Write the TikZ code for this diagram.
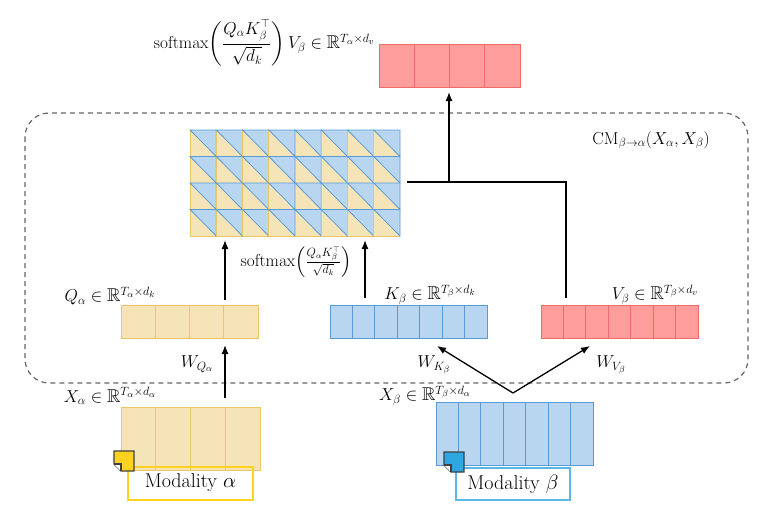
\documentclass[tikz,border=0pt]{standalone}
\usepackage{amsfonts,amsmath}
\usetikzlibrary{arrows.meta}
\definecolor{yf}{HTML}{F5E4B8}\definecolor{yd}{HTML}{E8C766}
\definecolor{bf}{HTML}{B8D6F0}\definecolor{bd}{HTML}{5B9BD5}
\definecolor{rf}{HTML}{FF9C9C}\definecolor{rd}{HTML}{F06A6A}
\definecolor{gold}{HTML}{FFD21F}\definecolor{sky}{HTML}{2EA6E2}
\begin{document}
\begin{tikzpicture}[x=1pt,y=-1pt,
  arr/.style={-{Latex[length=9pt,width=7pt]},line width=1.3pt},
  lab/.style={inner sep=1pt,font=\fontsize{18.5}{22}\selectfont}]
\useasboundingbox (0,0) rectangle (763,506);
\newcommand{\cells}[7]{% x1 y1 x2 y2 n fill draw
  \pgfmathsetmacro{\cw}{(#3-#1)/#5}
  \fill[#6] (#1,#2) rectangle (#3,#4);
  \foreach \i in {1,...,#5}{\draw[#7,line width=0.9pt] ({#1+(\i-1)*\cw},#2) rectangle ({#1+\i*\cw},#4);}
}
% dashed box
\draw[dashed,dash pattern=on 5pt off 4pt,line width=1.2pt,gray!80!black,rounded corners=24pt] (25,113) rectangle (748,383);
\node[lab] (cm) at (651,140) {$\mathrm{CM}_{\beta\to\alpha}(X_\alpha,X_\beta)$};
% output
\cells{379}{44}{520}{87}{4}{rf}{rd}
\node[inner sep=0,minimum width=141pt,minimum height=43pt] (out) at (449.5,65.5) {};
\node[lab,anchor=east] (outl) at (376,43) {$\mathrm{softmax}\!\left(\dfrac{Q_\alpha K_\beta^{\top}}{\sqrt{d_k}}\right)V_\beta\in\mathbb{R}^{T_\alpha\times d_v}$};
% grid
\foreach \r in {0,...,3}\foreach \c in {0,...,7}{
  \pgfmathsetmacro{\xa}{190+\c*26.25}\pgfmathsetmacro{\xb}{\xa+26.25}
  \pgfmathsetmacro{\ya}{130+\r*26.5}\pgfmathsetmacro{\yb}{\ya+26.5}
  \fill[yf] (\xa,\ya) rectangle (\xb,\yb);
  \fill[bf] (\xa,\ya) -- (\xb,\ya) -- (\xb,\yb) -- cycle;
  \draw[yd,line width=0.8pt] (\xa,\yb) -- (\xa,\ya) (\xa,\yb) -- (\xb,\yb);
  \draw[bd,line width=0.8pt] (\xa,\ya) -- (\xb,\ya) -- (\xb,\yb) -- cycle;
}
\node[inner sep=0,minimum width=210pt,minimum height=106pt] (grid) at (295,183) {};
\coordinate (gr) at (407,182);
\coordinate (jn) at (449,182);
\coordinate (vc) at (566,182);
% Q K V
\cells{121}{305}{258}{338}{4}{yf}{yd}
\node[inner sep=0,minimum width=137pt,minimum height=33pt] (Q) at (189.5,321.5) {};
\node[lab] (Ql) at (110,296) {$Q_\alpha\in\mathbb{R}^{T_\alpha\times d_k}$};
\cells{330}{305}{487}{338}{7}{bf}{bd}
\node[inner sep=0,minimum width=157pt,minimum height=33pt] (K) at (408.5,321.5) {};
\node[lab] (Kl) at (430,295) {$K_\beta\in\mathbb{R}^{T_\beta\times d_k}$};
\cells{541}{305}{698}{338}{7}{rf}{rd}
\node[inner sep=0,minimum width=157pt,minimum height=33pt] (V) at (619.5,321.5) {};
\node[lab] (Vl) at (655,295) {$V_\beta\in\mathbb{R}^{T_\beta\times d_v}$};
% X
\cells{121}{407}{260}{470}{4}{yf}{yd}
\node[inner sep=0,minimum width=139pt,minimum height=63pt] (Xa) at (190.5,438.5) {};
\node[lab] (Xal) at (110,396) {$X_\alpha\in\mathbb{R}^{T_\alpha\times d_\alpha}$};
\cells{436}{402}{593}{465}{7}{bf}{bd}
\node[inner sep=0,minimum width=157pt,minimum height=63pt] (Xb) at (514.5,433.5) {};
\node[lab] (Xbl) at (425,396) {$X_\beta\in\mathbb{R}^{T_\beta\times d_\alpha}$};
% arrows
\draw[arr] (225,398) -- (225,345);
\node[lab] (wq) at (197,364) {$W_{Q_\alpha}$};
\coordinate (sp) at (513,393);
\draw[arr] (sp) -- (437,346);
\draw[arr] (sp) -- (590,346);
\node[lab] (wk) at (434,365) {$W_{K_\beta}$};
\node[lab] (wv) at (611,365) {$W_{V_\beta}$};
\draw[arr] (225,300) -- (225,240);
\draw[arr] (365,298) -- (365,240);
\node[inner sep=0pt,font=\fontsize{17}{20}\selectfont] (sm) at (296,262) {$\mathrm{softmax}\!\left(\frac{Q_\alpha K_\beta^{\top}}{\sqrt{d_k}}\right)$};
\draw[line width=1.3pt] (gr) -- (vc) -- (566,298);
\draw[arr] (jn) -- (449,92);
% modality boxes
\node[draw=gold,line width=2pt,minimum width=125pt,minimum height=33pt,inner sep=0,font=\fontsize{20}{24}\selectfont] (ma) at (190.5,483) {Modality $\alpha$};
\node[draw=sky!80,line width=2pt,minimum width=114pt,minimum height=32pt,inner sep=0,font=\fontsize{20}{24}\selectfont] (mb) at (513,484) {Modality $\beta$};
% icons
\newcommand{\noteicon}[3]{% x y color
  \fill[#3,draw=black!75,line width=1.2pt] (#1,#2) -- (#1+20,#2) -- (#1+20,#2+20) -- (#1+7,#2+20) -- (#1,#2+13) -- cycle;
  \draw[black!75,fill=white,line width=1.2pt] (#1,#2+13) -- (#1+7,#2+13) -- (#1+7,#2+20);
}
\noteicon{114}{451}{gold}
\noteicon{444}{452}{sky}
\end{tikzpicture}
\end{document}
